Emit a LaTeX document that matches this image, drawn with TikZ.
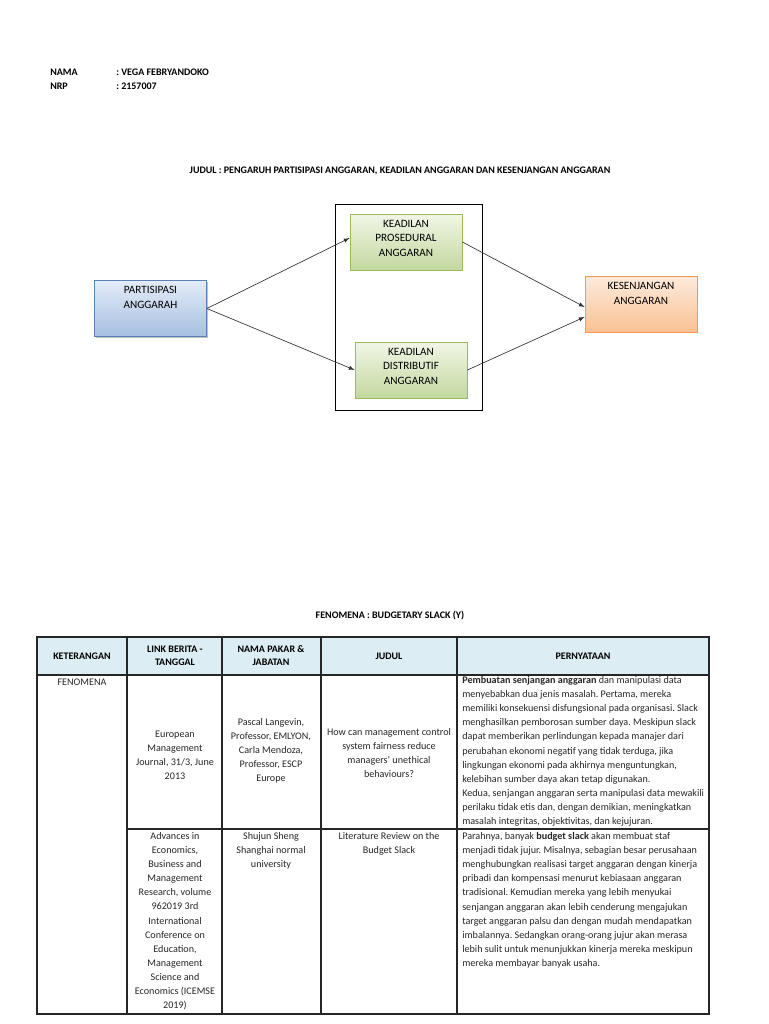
\documentclass[tikz,border=0pt]{standalone}
\usepackage{fontspec}
\setmainfont{Carlito}
\usetikzlibrary{shadows}
\definecolor{birugaris}{HTML}{5A82B8}
\definecolor{birumuda}{HTML}{E4ECF7}
\definecolor{birutua}{HTML}{A6BFE2}
\definecolor{hijaugaris}{HTML}{9BBB59}
\definecolor{hijaumuda}{HTML}{F1F6E7}
\definecolor{hijautua}{HTML}{C3D89E}
\definecolor{oranyegaris}{HTML}{F29A55}
\definecolor{oranyemuda}{HTML}{FDEBDD}
\definecolor{oranyetua}{HTML}{F9C193}
\definecolor{kepalatabel}{HTML}{DCEEF3}
\frenchspacing
\begin{document}
\begin{tikzpicture}[x=0.75pt,y=-0.75pt,
  kotak/.style={draw, line width=0.6pt, minimum width=84pt, minimum height=42pt, inner sep=0pt,
    drop shadow={shadow xshift=0.9pt, shadow yshift=-0.9pt, fill=black!55, opacity=0.45}},
  biru/.style={kotak, draw=birugaris, top color=birumuda, bottom color=birutua},
  hijau/.style={kotak, draw=hijaugaris, top color=hijaumuda, bottom color=hijautua},
  oranye/.style={kotak, draw=oranyegaris, top color=oranyemuda, bottom color=oranyetua},
  tulisan/.style={font=\fontsize{8.4}{11.2}\selectfont, align=center, inner sep=0pt, anchor=north, yshift=-4.5pt},
  kepala/.style={font=\bfseries\fontsize{7.5}{9}\selectfont, inner sep=0pt},
  isi/.style={font=\fontsize{7.6}{10.6}\selectfont, text=black!85, inner sep=0pt, align=center},
  garis/.style={line width=0.8pt, black!85},
  panah/.style={->, >=latex, line width=0.5pt, black!80}]

\useasboundingbox (0,0) rectangle (768,1024);

% Identitas
\node[kepala, anchor=west] (nama) at (50,72) {NAMA};
\node[kepala, anchor=west] (namaisi) at (116,72) {: VEGA FEBRYANDOKO};
\node[kepala, anchor=west] (nrp) at (50,86) {NRP};
\node[kepala, anchor=west] (nrpisi) at (116,86) {: 2157007};

% Judul
\node[kepala] (judul) at (400,171) {JUDUL : PENGARUH PARTISIPASI ANGGARAN, KEADILAN ANGGARAN DAN KESENJANGAN ANGGARAN};

% Bingkai keadilan
\draw[line width=0.6pt] (335,204) rectangle (482,410);

% Kotak variabel
\node[biru] (partisipasi) at (150.5,308.5) {};
\node[tulisan] (tpartisipasi) at (partisipasi.north) {PARTISIPASI\\ANGGARAH};

\node[hijau] (prosedural) at (406,242) {};
\node[tulisan] (tprosedural) at (prosedural.north) {KEADILAN\\PROSEDURAL\\ANGGARAN};

\node[hijau] (distributif) at (411,370) {};
\node[tulisan] (tdistributif) at (distributif.north) {KEADILAN\\DISTRIBUTIF\\ANGGARAN};

\node[oranye] (kesenjangan) at (641,304) {};
\node[tulisan] (tkesenjangan) at (kesenjangan.north) {KESENJANGAN\\ANGGARAN};

% Panah
\draw[panah] (partisipasi.east) -- ([yshift=3pt]prosedural.west);
\draw[panah] (partisipasi.east) -- (distributif.west);
\draw[panah] (prosedural.east) -- ([yshift=-2.25pt]kesenjangan.west);
\draw[panah] (distributif.east) -- ([yshift=-9.75pt]kesenjangan.west);

% Tabel fenomena
\node[kepala] (fenomena) at (390,616) {FENOMENA : BUDGETARY SLACK (Y)};

\fill[kepalatabel] (37,637) rectangle (709,675);
\draw[garis] (37,637) rectangle (709,1014);
\draw[garis] (37,675) -- (709,675);
\draw[garis] (127,829) -- (709,829);
\foreach \x in {127,222,321,457}
  \draw[garis] (\x,637) -- (\x,1014);

% Kepala tabel
\node[kepala, align=center] (h1) at (82,656) {KETERANGAN};
\node[kepala, align=center] (h2) at (175,655.5) {LINK BERITA -\\[0.8pt]TANGGAL};
\node[kepala, align=center] (h3) at (271,655.5) {NAMA PAKAR \&\\[0.8pt]JABATAN};
\node[kepala, align=center] (h4) at (389,656) {JUDUL};
\node[kepala, align=center] (h5) at (583,656) {PERNYATAAN};

% Baris 1
\node[isi, anchor=north] (k1) at (82,679) {FENOMENA};
\node[isi] (b1) at (175,755) {European\\Management\\Journal, 31/3, June\\2013};
\node[isi] (p1) at (271,751) {Pascal Langevin,\\Professor, EMLYON,\\Carla Mendoza,\\Professor, ESCP\\Europe};
\node[isi] (j1) at (389,753) {How can management control\\system fairness reduce\\managers’ unethical\\behaviours?};
\node[isi, anchor=north west, align=left] (n1) at (462,676) {\textbf{Pembuatan senjangan anggaran} dan manipulasi data\\
menyebabkan dua jenis masalah. Pertama, mereka\\
memiliki konsekuensi disfungsional pada organisasi. Slack\\
menghasilkan pemborosan sumber daya. Meskipun slack\\
dapat memberikan perlindungan kepada manajer dari\\
perubahan ekonomi negatif yang tidak terduga, jika\\
lingkungan ekonomi pada akhirnya menguntungkan,\\
kelebihan sumber daya akan tetap digunakan.\\
Kedua, senjangan anggaran serta manipulasi data mewakili\\
perilaku tidak etis dan, dengan demikian, meningkatkan\\
masalah integritas, objektivitas, dan kejujuran.};

% Baris 2
\node[isi, anchor=north] (b2) at (175,832) {Advances in\\Economics,\\Business and\\Management\\Research, volume\\962019 3rd\\International\\Conference on\\Education,\\Management\\Science and\\Economics (ICEMSE\\2019)};
\node[isi, anchor=north] (p2) at (271,832) {Shujun Sheng\\Shanghai normal\\university};
\node[isi, anchor=north] (j2) at (389,832) {Literature Review on the\\Budget Slack};
\node[isi, anchor=north west, align=left] (n2) at (462,832) {Parahnya, banyak \textbf{budget slack} akan membuat staf\\
menjadi tidak jujur. Misalnya, sebagian besar perusahaan\\
menghubungkan realisasi target anggaran dengan kinerja\\
pribadi dan kompensasi menurut kebiasaan anggaran\\
tradisional. Kemudian mereka yang lebih menyukai\\
senjangan anggaran akan lebih cenderung mengajukan\\
target anggaran palsu dan dengan mudah mendapatkan\\
imbalannya. Sedangkan orang-orang jujur akan merasa\\
lebih sulit untuk menunjukkan kinerja mereka meskipun\\
mereka membayar banyak usaha.};

\end{tikzpicture}
\end{document}
